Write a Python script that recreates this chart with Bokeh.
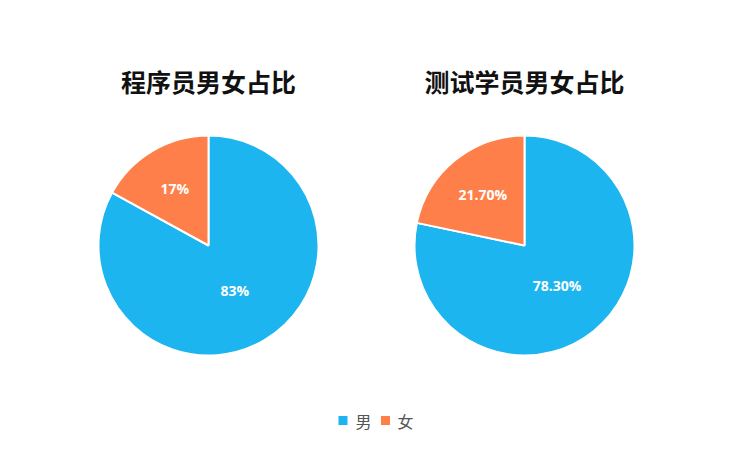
import math
from bokeh.plotting import figure
from bokeh.models import Range1d, ColumnDataSource
from bokeh.core.properties import value
from bokeh.embed import file_html
from bokeh.resources import INLINE

# ---- data ----
titles = ["程序员男女占比", "测试学员男女占比"]
categories = ["男", "女"]
programmer_values = [83, 17]
tester_values = [78.3, 21.7]
programmer_labels = ["83%", "17%"]
tester_labels = ["78.30%", "21.70%"]
colors = ["#1db5f0", "#ff7f4a"]

W, H = 736, 436
p = figure(width=W, height=H, output_backend="svg", toolbar_location=None,
           x_range=Range1d(0, W), y_range=Range1d(0, H),
           min_border=0, outline_line_color=None)
p.axis.visible = False
p.grid.visible = False

def py(y):  # screenshot pixel y -> data y
    return H - y

centers = [(208, py(245)), (524, py(245))]
radius = 110
label_frac = [0.47, 0.6]

for (cx, cy), vals, labs, title in zip(centers, [programmer_values, tester_values],
                                        [programmer_labels, tester_labels], titles):
    total = sum(vals)
    starts, ends, lx, ly = [], [], [], []
    a = math.pi / 2
    for i, v in enumerate(vals):
        span = 2 * math.pi * v / total
        e = a
        s = a - span
        starts.append(s)
        ends.append(e)
        mid = (s + e) / 2
        r = radius * label_frac[i]
        lx.append(cx + r * math.cos(mid))
        ly.append(cy + r * math.sin(mid))
        a = s
    src = ColumnDataSource(dict(start=starts, end=ends, color=colors, lx=lx, ly=ly, lab=labs))
    p.wedge(x=cx, y=cy, radius=radius, start_angle="start", end_angle="end",
            fill_color="color", line_color="white", line_width=2, source=src)
    p.text(x="lx", y="ly", text="lab", source=src, text_color="white",
           text_font=value("Open Sans"), text_font_style="bold", text_font_size="14px",
           text_align="center", text_baseline="middle")
    p.text(x=[cx], y=[py(80)], text=[title], text_color="#111111",
           text_font=value("Noto Sans CJK SC"), text_font_style="bold",
           text_font_size="25px", text_align="center", text_baseline="middle")

# legend
leg_x = [342.5, 385]
leg_tx = [355, 397]
p.scatter(x=leg_x, y=[py(420)] * 2, marker="square", size=9, fill_color=colors, line_color=None)
p.text(x=leg_tx, y=[py(420)] * 2, text=categories, text_color="#555555",
       text_font=value("Noto Sans CJK SC"), text_font_size="16px",
       text_align="left", text_baseline="middle")

open("out.html", "w").write(file_html(p, INLINE))
